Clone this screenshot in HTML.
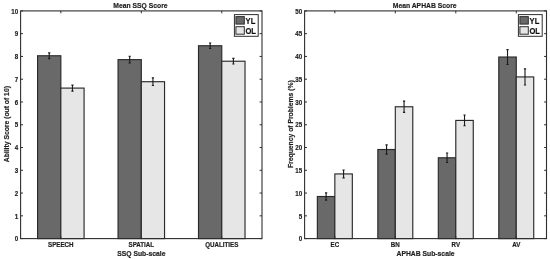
<!DOCTYPE html>
<html><head><meta charset="utf-8"><title>Mean SSQ and APHAB Scores</title>
<style>
html,body{margin:0;padding:0;background:#fff;}
svg{display:block}
text{font-family:"Liberation Sans",Arial,Helvetica,sans-serif;font-weight:bold;fill:#1f1f1f;stroke:#1f1f1f;stroke-width:0.18px}
.tk{font-size:6.2px}
.lb{font-size:6.8px}
.lg{font-size:7.6px;fill:#111}
</style></head><body>
<svg width="550" height="259" viewBox="0 0 550 259">
<defs><filter id="soft" x="0" y="0" width="550" height="259" filterUnits="userSpaceOnUse"><feGaussianBlur stdDeviation="0.32"/></filter></defs>
<rect width="550" height="259" fill="#fff"/>
<g filter="url(#soft)">
<rect x="37.58" y="55.76" width="23.25" height="182.84" fill="#696969" stroke="#2a2a2a" stroke-width="1.15"/>
<rect x="60.83" y="88.09" width="23.25" height="150.51" fill="#e6e6e6" stroke="#2a2a2a" stroke-width="1.15"/>
<path d="M49.21 52.86V58.66M48.11 52.86h2.2M48.11 58.66h2.2" stroke="#1a1a1a" stroke-width="1.1" fill="none"/>
<path d="M72.46 85.09V91.09M71.36 85.09h2.2M71.36 91.09h2.2" stroke="#1a1a1a" stroke-width="1.1" fill="none"/>
<rect x="118.05" y="59.63" width="23.25" height="178.97" fill="#696969" stroke="#2a2a2a" stroke-width="1.15"/>
<rect x="141.30" y="81.71" width="23.25" height="156.89" fill="#e6e6e6" stroke="#2a2a2a" stroke-width="1.15"/>
<path d="M129.67 56.23V63.03M128.57 56.23h2.2M128.57 63.03h2.2" stroke="#1a1a1a" stroke-width="1.1" fill="none"/>
<path d="M152.93 77.91V85.51M151.83 77.91h2.2M151.83 85.51h2.2" stroke="#1a1a1a" stroke-width="1.1" fill="none"/>
<rect x="198.51" y="45.74" width="23.25" height="192.86" fill="#696969" stroke="#2a2a2a" stroke-width="1.15"/>
<rect x="221.77" y="61.22" width="23.25" height="177.38" fill="#e6e6e6" stroke="#2a2a2a" stroke-width="1.15"/>
<path d="M210.14 43.04V48.44M209.04 43.04h2.2M209.04 48.44h2.2" stroke="#1a1a1a" stroke-width="1.1" fill="none"/>
<path d="M233.39 58.42V64.02M232.29 58.42h2.2M232.29 64.02h2.2" stroke="#1a1a1a" stroke-width="1.1" fill="none"/>
<rect x="20.6" y="10.9" width="241.4" height="227.7" fill="none" stroke="#2e2e2e" stroke-width="1.1"/>
<text transform="translate(18.10 241.30) scale(1 1.12)" text-anchor="end" class="tk">0</text>
<text transform="translate(18.10 218.53) scale(1 1.12)" text-anchor="end" class="tk">1</text>
<text transform="translate(18.10 195.76) scale(1 1.12)" text-anchor="end" class="tk">2</text>
<text transform="translate(18.10 172.99) scale(1 1.12)" text-anchor="end" class="tk">3</text>
<text transform="translate(18.10 150.22) scale(1 1.12)" text-anchor="end" class="tk">4</text>
<text transform="translate(18.10 127.45) scale(1 1.12)" text-anchor="end" class="tk">5</text>
<text transform="translate(18.10 104.68) scale(1 1.12)" text-anchor="end" class="tk">6</text>
<text transform="translate(18.10 81.91) scale(1 1.12)" text-anchor="end" class="tk">7</text>
<text transform="translate(18.10 59.14) scale(1 1.12)" text-anchor="end" class="tk">8</text>
<text transform="translate(18.10 36.37) scale(1 1.12)" text-anchor="end" class="tk">9</text>
<text transform="translate(18.10 13.60) scale(1 1.12)" text-anchor="end" class="tk">10</text>
<text transform="translate(60.83 247.30) scale(1 1.12)" text-anchor="middle" class="tk">SPEECH</text>
<text transform="translate(141.30 247.30) scale(1 1.12)" text-anchor="middle" class="tk">SPATIAL</text>
<text transform="translate(221.77 247.30) scale(1 1.12)" text-anchor="middle" class="tk">QUALITIES</text>
<path d="M20.6 238.60h2.4M262.0 238.60h-2.4M20.6 215.83h2.4M262.0 215.83h-2.4M20.6 193.06h2.4M262.0 193.06h-2.4M20.6 170.29h2.4M262.0 170.29h-2.4M20.6 147.52h2.4M262.0 147.52h-2.4M20.6 124.75h2.4M262.0 124.75h-2.4M20.6 101.98h2.4M262.0 101.98h-2.4M20.6 79.21h2.4M262.0 79.21h-2.4M20.6 56.44h2.4M262.0 56.44h-2.4M20.6 33.67h2.4M262.0 33.67h-2.4M20.6 10.90h2.4M262.0 10.90h-2.4M60.83 238.6v-2.4M60.83 10.9v2.4M141.30 238.6v-2.4M141.30 10.9v2.4M221.77 238.6v-2.4M221.77 10.9v2.4" stroke="#2e2e2e" stroke-width="1" fill="none"/>
<text transform="translate(140.40 7.80) scale(1 1.12)" text-anchor="middle" class="lb">Mean SSQ Score</text>
<text transform="translate(141.30 256.00) scale(1 1.12)" text-anchor="middle" class="lb">SSQ Sub-scale</text>
<text transform="translate(8.70 124.15) rotate(-90) scale(1 1.12)" text-anchor="middle" class="lb">Ability Score (out of 10)</text>
<rect x="234.40" y="14.6" width="23.8" height="21.7" fill="#fff" stroke="#2e2e2e" stroke-width="1"/>
<rect x="235.90" y="16.6" width="8.4" height="7.5" fill="#696969" stroke="#2e2e2e" stroke-width="1"/>
<rect x="235.90" y="26.7" width="8.4" height="7.5" fill="#e6e6e6" stroke="#2e2e2e" stroke-width="1"/>
<text transform="translate(245.60 23.5) scale(1 1.14)" class="lg">YL</text>
<text transform="translate(245.40 33.7) scale(1 1.14)" class="lg">OL</text>
<rect x="317.36" y="196.52" width="17.48" height="42.08" fill="#696969" stroke="#2a2a2a" stroke-width="1.15"/>
<rect x="334.84" y="173.93" width="17.48" height="64.67" fill="#e6e6e6" stroke="#2a2a2a" stroke-width="1.15"/>
<path d="M326.10 192.92V200.12M325.00 192.92h2.2M325.00 200.12h2.2" stroke="#1a1a1a" stroke-width="1.1" fill="none"/>
<path d="M343.58 170.03V177.83M342.48 170.03h2.2M342.48 177.83h2.2" stroke="#1a1a1a" stroke-width="1.1" fill="none"/>
<rect x="377.84" y="149.52" width="17.48" height="89.08" fill="#696969" stroke="#2a2a2a" stroke-width="1.15"/>
<rect x="395.31" y="106.76" width="17.48" height="131.84" fill="#e6e6e6" stroke="#2a2a2a" stroke-width="1.15"/>
<path d="M386.57 144.92V154.12M385.47 144.92h2.2M385.47 154.12h2.2" stroke="#1a1a1a" stroke-width="1.1" fill="none"/>
<path d="M404.05 101.16V112.36M402.95 101.16h2.2M402.95 112.36h2.2" stroke="#1a1a1a" stroke-width="1.1" fill="none"/>
<rect x="438.31" y="157.77" width="17.48" height="80.83" fill="#696969" stroke="#2a2a2a" stroke-width="1.15"/>
<rect x="455.79" y="120.42" width="17.48" height="118.18" fill="#e6e6e6" stroke="#2a2a2a" stroke-width="1.15"/>
<path d="M447.05 153.07V162.47M445.95 153.07h2.2M445.95 162.47h2.2" stroke="#1a1a1a" stroke-width="1.1" fill="none"/>
<path d="M464.53 115.02V125.82M463.43 115.02h2.2M463.43 125.82h2.2" stroke="#1a1a1a" stroke-width="1.1" fill="none"/>
<rect x="498.79" y="57.03" width="17.48" height="181.57" fill="#696969" stroke="#2a2a2a" stroke-width="1.15"/>
<rect x="516.26" y="76.93" width="17.48" height="161.67" fill="#e6e6e6" stroke="#2a2a2a" stroke-width="1.15"/>
<path d="M507.52 49.63V64.43M506.42 49.63h2.2M506.42 64.43h2.2" stroke="#1a1a1a" stroke-width="1.1" fill="none"/>
<path d="M525.00 68.83V85.03M523.90 68.83h2.2M523.90 85.03h2.2" stroke="#1a1a1a" stroke-width="1.1" fill="none"/>
<rect x="304.6" y="10.9" width="241.89999999999998" height="227.7" fill="none" stroke="#2e2e2e" stroke-width="1.1"/>
<text transform="translate(302.10 241.30) scale(1 1.12)" text-anchor="end" class="tk">0</text>
<text transform="translate(302.10 218.53) scale(1 1.12)" text-anchor="end" class="tk">5</text>
<text transform="translate(302.10 195.76) scale(1 1.12)" text-anchor="end" class="tk">10</text>
<text transform="translate(302.10 172.99) scale(1 1.12)" text-anchor="end" class="tk">15</text>
<text transform="translate(302.10 150.22) scale(1 1.12)" text-anchor="end" class="tk">20</text>
<text transform="translate(302.10 127.45) scale(1 1.12)" text-anchor="end" class="tk">25</text>
<text transform="translate(302.10 104.68) scale(1 1.12)" text-anchor="end" class="tk">30</text>
<text transform="translate(302.10 81.91) scale(1 1.12)" text-anchor="end" class="tk">35</text>
<text transform="translate(302.10 59.14) scale(1 1.12)" text-anchor="end" class="tk">40</text>
<text transform="translate(302.10 36.37) scale(1 1.12)" text-anchor="end" class="tk">45</text>
<text transform="translate(302.10 13.60) scale(1 1.12)" text-anchor="end" class="tk">50</text>
<text transform="translate(334.84 247.30) scale(1 1.12)" text-anchor="middle" class="tk">EC</text>
<text transform="translate(395.31 247.30) scale(1 1.12)" text-anchor="middle" class="tk">BN</text>
<text transform="translate(455.79 247.30) scale(1 1.12)" text-anchor="middle" class="tk">RV</text>
<text transform="translate(516.26 247.30) scale(1 1.12)" text-anchor="middle" class="tk">AV</text>
<path d="M304.6 238.60h2.4M546.5 238.60h-2.4M304.6 215.83h2.4M546.5 215.83h-2.4M304.6 193.06h2.4M546.5 193.06h-2.4M304.6 170.29h2.4M546.5 170.29h-2.4M304.6 147.52h2.4M546.5 147.52h-2.4M304.6 124.75h2.4M546.5 124.75h-2.4M304.6 101.98h2.4M546.5 101.98h-2.4M304.6 79.21h2.4M546.5 79.21h-2.4M304.6 56.44h2.4M546.5 56.44h-2.4M304.6 33.67h2.4M546.5 33.67h-2.4M304.6 10.90h2.4M546.5 10.90h-2.4M334.84 238.6v-2.4M334.84 10.9v2.4M395.31 238.6v-2.4M395.31 10.9v2.4M455.79 238.6v-2.4M455.79 10.9v2.4M516.26 238.6v-2.4M516.26 10.9v2.4" stroke="#2e2e2e" stroke-width="1" fill="none"/>
<text transform="translate(424.65 7.80) scale(1 1.12)" text-anchor="middle" class="lb">Mean APHAB Score</text>
<text transform="translate(425.55 256.00) scale(1 1.12)" text-anchor="middle" class="lb">APHAB Sub-scale</text>
<text transform="translate(292.70 124.15) rotate(-90) scale(1 1.12)" text-anchor="middle" class="lb">Frequency of Problems (%)</text>
<rect x="518.40" y="14.6" width="23.8" height="21.7" fill="#fff" stroke="#2e2e2e" stroke-width="1"/>
<rect x="519.90" y="16.6" width="8.4" height="7.5" fill="#696969" stroke="#2e2e2e" stroke-width="1"/>
<rect x="519.90" y="26.7" width="8.4" height="7.5" fill="#e6e6e6" stroke="#2e2e2e" stroke-width="1"/>
<text transform="translate(529.60 23.5) scale(1 1.14)" class="lg">YL</text>
<text transform="translate(529.40 33.7) scale(1 1.14)" class="lg">OL</text>
</g>
</svg>
</body></html>
